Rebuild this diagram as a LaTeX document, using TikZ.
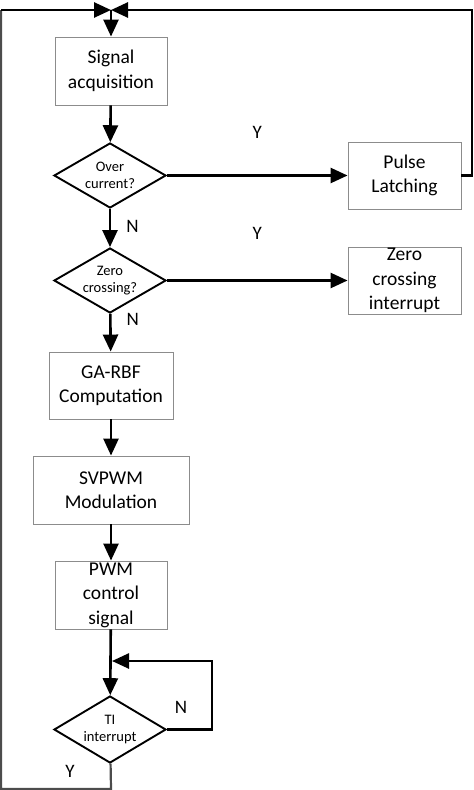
\documentclass[tikz,border=0pt]{standalone}
\usepackage{fontspec}
\setmainfont{Carlito}
\usetikzlibrary{arrows.meta,shapes.geometric,positioning,calc}

\begin{document}
\begin{tikzpicture}[x=1pt,y=-1pt,
  box/.style={draw=gray!90,line width=0.9pt,align=center,inner sep=0pt,font=\fontsize{19.5}{24.5}\selectfont},
  dec/.style={diamond,draw,line width=1.9pt,aspect=1.72,inner sep=0pt,minimum width=112pt,minimum height=65pt,align=center,font=\fontsize{14.5}{17}\selectfont},
  flow/.style={line width=2.6pt,-{Triangle[length=17pt,width=15pt]}},
  ret/.style={line width=2.2pt,draw=gray!60!black},
  lbl/.style={inner sep=0pt,font=\fontsize{19}{22}\selectfont}]
\useasboundingbox (0,0) rectangle (474,790);
\node[box,minimum width=112pt,minimum height=68pt] (sig) at (111,71) {Signal\\acquisition};
\node[dec] (oc) at (110,175.5) {Over\\current?};
\node[box,minimum width=113pt,minimum height=67pt] (pulse) at (404.5,175.5) {Pulse\\Latching};
\node[dec] (zc) at (110,280.5) {Zero\\crossing?};
\node[box,minimum width=113pt,minimum height=67pt] (zci) at (404.5,280.5) {Zero\\crossing\\interrupt};
\node[box,minimum width=124pt,minimum height=67pt] (gar) at (111,385.5) {GA-RBF\\Computation};
\node[box,minimum width=156pt,minimum height=68pt] (svp) at (111,490) {SVPWM\\Modulation};
\node[box,minimum width=112pt,minimum height=68pt] (pwm) at (111,595) {PWM\\control\\signal};
\node[dec,minimum height=67pt] (ti) at (110,729.5) {TI\\interrupt};
\coordinate (topM) at (111,10); \coordinate (topL) at (1,10); \coordinate (topR) at (472,10);
\coordinate (botM) at (111,789);
\coordinate (loopR) at (212,661); \coordinate (loopL) at (112,661);
% main chain
\draw[flow] (topM) -- (sig);
\draw[flow] (sig) -- (oc);
\draw[flow] (oc) -- node[lbl,right=15pt,pos=.45] (nOC) {N} (zc);
\draw[flow] (zc) -- node[lbl,right=15pt,pos=.15] (nZC) {N} (gar);
\draw[flow] (gar) -- (svp);
\draw[flow] (svp) -- (pwm);
\draw[flow] (pwm) -- (ti);
% branches
\draw[flow] (oc) -- node[lbl,above=36pt] (yOC) {Y} (pulse);
\draw[flow] (zc) -- node[lbl,above=40pt] (yZC) {Y} (zci);
% loops back
\draw[flow] (ti.east) -| (loopR) -- (loopL);
\node[lbl] (nTI) at (181,707) {N};
\draw[ret] (ti) -- (botM) -| (topL);
\draw[flow] (topL) -- (topM);
\draw[flow] (pulse.east) -| (topR) -- (topM);
\node[lbl] (yTI) at (70,771) {Y};
\end{tikzpicture}
\end{document}
